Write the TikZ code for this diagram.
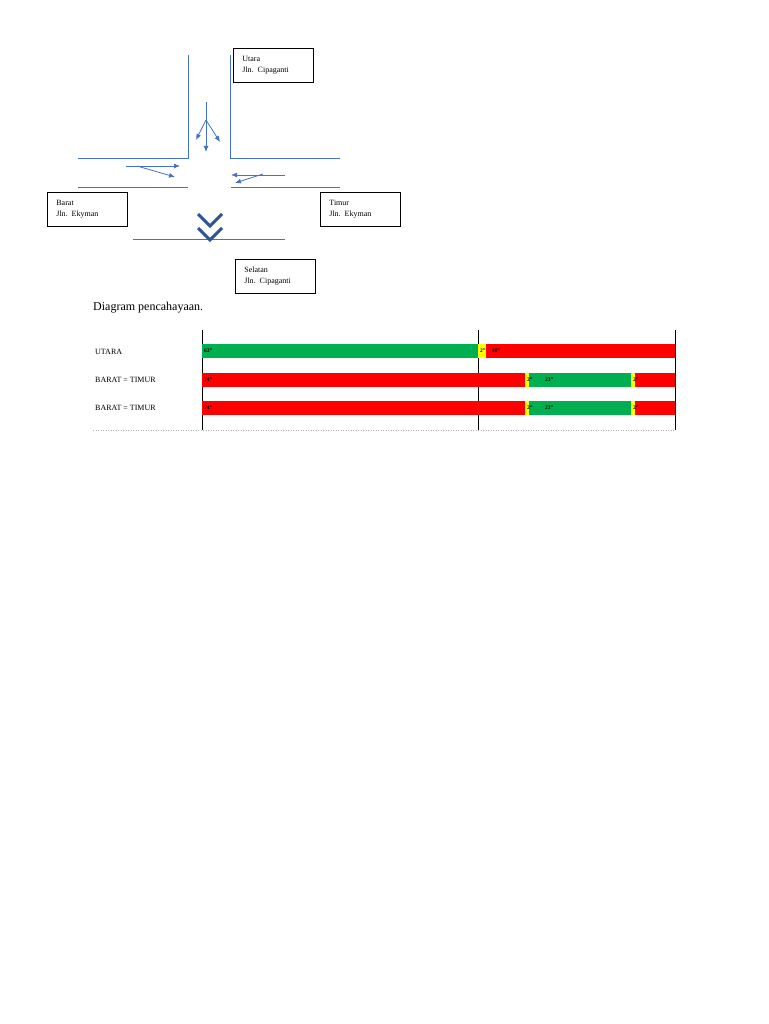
\documentclass[tikz,border=0pt]{standalone}
\usepackage{fontspec}
\setmainfont{Liberation Serif}
\begin{document}
\begin{tikzpicture}[x=1pt,y=-1pt,
  road/.style={line width=0.9pt, color={rgb,255:red,68;green,114;blue,196}},
  arr/.style={road, line width=0.8pt, -{Latex[length=6pt,width=5pt]}},
  lbox/.style={draw, line width=0.8pt, minimum width=80pt, minimum height=34pt, anchor=north west, align=left, font=\fontsize{8}{11}\selectfont, text width=62pt},
  tiny/.style={font=\fontsize{5.5}{6}\selectfont\bfseries, inner sep=0pt, anchor=west},
  rowlab/.style={font=\fontsize{8}{10}\selectfont, anchor=west, inner sep=0pt}]
\usetikzlibrary{arrows.meta}
\definecolor{gr}{RGB}{0,176,80}
\definecolor{rd}{RGB}{255,0,0}
\definecolor{yl}{RGB}{255,255,0}
\definecolor{dk}{RGB}{47,85,151}
\useasboundingbox (0,0) rectangle (768,1024);
% roads
\draw[road] (188,55) -- (188,158) -- (78,158);
\draw[road] (230,55) -- (230,158) -- (340,158);
\draw[road] (78,187) -- (188,187);
\draw[road] (231,187) -- (340,187);
\draw[road] (133,239) -- (285,239);
% arrows
\coordinate (n0) at (206,102); \coordinate (n1) at (206,120);
\coordinate (n2) at (206,152); \coordinate (n3) at (196,140); \coordinate (n4) at (220,142);
\draw[arr] (n0) -- (n2);
\draw[arr] (n1) -- (n3);
\draw[arr] (n1) -- (n4);
\coordinate (w0) at (126,166); \coordinate (w1) at (180,166);
\coordinate (w2) at (137,166); \coordinate (w3) at (175,177);
\draw[arr] (w0) -- (w1); \draw[arr] (w2) -- (w3);
\coordinate (e0) at (285,175); \coordinate (e1) at (231,175);
\coordinate (e2) at (263,174); \coordinate (e3) at (235,183);
\draw[arr] (e0) -- (e1); \draw[arr] (e2) -- (e3);
% chevrons
\draw[dk, line width=3pt] (198,214) -- (210,226) -- (222,214);
\draw[dk, line width=3pt] (198,228) -- (210,240) -- (222,228);
% boxes
\node[lbox] (utara) at (233,48) {Utara\\Jln. Cipaganti};
\node[lbox] (barat) at (47,192) {Barat\\Jln. Ekyman};
\node[lbox] (timur) at (320,192) {Timur\\Jln. Ekyman};
\node[lbox] (selatan) at (235,259) {Selatan\\Jln. Cipaganti};
% heading
\node[anchor=west, inner sep=0pt, font=\fontsize{12}{14}\selectfont] (head) at (93,308) {Diagram pencahayaan.};
% rows labels
\node[rowlab] (r1) at (95,352) {UTARA};
\node[rowlab] (r2) at (95,380) {BARAT = TIMUR};
\node[rowlab] (r3) at (95,408) {BARAT = TIMUR};
% time lines
\draw[line width=0.8pt] (202,330) -- (202,430);
\draw[line width=0.8pt] (478,330) -- (478,430);
\draw[line width=0.8pt] (675,330) -- (675,430);
\draw[gray!60, dotted, line width=0.5pt] (93,430) -- (675,430);
% bars
\fill[gr] (202,344) rectangle (478,358);
\fill[yl] (478,344) rectangle (486,358);
\fill[rd] (486,344) rectangle (675,358);
\foreach \y in {373,401}{
  \fill[rd] (202,\y) rectangle (525,\y+14);
  \fill[yl] (525,\y) rectangle (529,\y+14);
  \fill[gr] (529,\y) rectangle (631,\y+14);
  \fill[yl] (631,\y) rectangle (635,\y+14);
  \fill[rd] (635,\y) rectangle (675,\y+14);
  \node[tiny] at (204,\y+7) {74''};
  \node[tiny] at (527,\y+7) {2''};
  \node[tiny] at (545,\y+7) {23''};
  \node[tiny] at (633,\y+7) {2''};
}
\node[tiny] at (204,351) {63''};
\node[tiny] at (480,351) {2''};
\node[tiny] at (492,351) {40''};
\end{tikzpicture}
\end{document}
